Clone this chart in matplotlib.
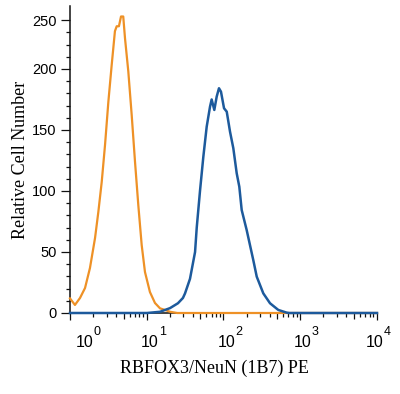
import matplotlib
matplotlib.use("Agg")
import matplotlib.pyplot as plt
from matplotlib.ticker import FixedLocator, NullLocator, NullFormatter
import numpy as np

# ---------------- data ----------------
orange_x = [1.00, 1.16, 1.35, 1.57, 1.82, 2.12, 2.34, 2.59, 2.86, 3.16, 3.49, 3.85,
            4.06, 4.34, 4.62, 4.94, 5.21, 5.75, 6.37, 7.03, 7.76, 8.59, 9.48, 11.0,
            12.8, 14.9, 17.3, 20.1, 25.0, 10000]
orange_y = [12, 6.6, 12.3, 20.5, 36.9, 61.5, 82.8, 107.4, 137.7, 173, 203, 231,
            235, 235, 243, 243, 225, 198, 162, 124, 88.5, 55.7, 33.6, 17.2,
            8.2, 3.8, 2.5, 1.0, 0, 0]

blue_x = [1.0, 10.07, 14.9, 20.1, 25.5, 29.6, 31.5, 36.6, 42.6, 44.8, 49.4, 54.6,
          60.4, 66.7, 70.1, 75.9, 81.5, 87.3, 92.7, 101.6, 110.2, 121.6, 134.3,
          148.6, 160.7, 172.6, 200.4, 244.3, 271, 330, 403.6, 517.6, 665, 720, 10000]
blue_y = [0, 0, 1, 4, 8, 12.3, 16, 28, 50, 70, 100, 128,
          152.7, 169, 175, 166.4, 177.3, 184.2, 181.4, 167.8, 165, 148.6, 135,
          114.5, 103.5, 84.4, 68, 43.4, 29.8, 16.1, 8, 2.5, 0.3, 0, 0]

x_major = [1, 10, 100, 1000, 10000]
x_base_labels = ["10", "10", "10", "10", "10"]
x_exp_labels = ["0", "1", "2", "3", "4"]
x_mid_ticks = [5, 50, 500, 5000]

y_major = [0, 50, 100, 150, 200, 240]
y_labels = ["0", "50", "100", "150", "200", "250"]
y_minor = list(range(0, 250, 10))

ORANGE = "#EE9126"
BLUE = "#1D5A9C"

# ---------------- figure ----------------
W, H = 400, 394
fig = plt.figure(figsize=(W / 100, H / 100), dpi=100)
ax = fig.add_axes([70 / W, 81 / H, 307 / W, 307 / H])

ax.plot(orange_x, orange_y, color=ORANGE, lw=1.6, clip_on=False, zorder=3)
ax.plot(blue_x, blue_y, color=BLUE, lw=1.8, clip_on=False, zorder=4)

ax.set_xscale("log")
ax.set_xlim(1, 10000)
ax.set_ylim(0, 251.6)

for s in ["top", "right"]:
    ax.spines[s].set_visible(False)
for s in ["left", "bottom"]:
    ax.spines[s].set_linewidth(1.1)
    ax.spines[s].set_color("#111111")

# y ticks
ax.yaxis.set_major_locator(FixedLocator(y_major))
ax.set_yticklabels(y_labels, fontsize=10.5, family="Liberation Sans")
ax.yaxis.set_minor_locator(FixedLocator(y_minor))
ax.tick_params(axis="y", which="major", length=6.5, width=0.9, pad=3, color="#111111")
ax.tick_params(axis="y", which="minor", length=3, width=0.9, color="#111111")

# x ticks
ax.xaxis.set_major_locator(FixedLocator(x_major))
ax.xaxis.set_major_formatter(NullFormatter())
ax.xaxis.set_minor_locator(FixedLocator(
    [m * 10 ** k for k in range(4) for m in range(2, 10) if m != 5]))
ax.xaxis.set_minor_formatter(NullFormatter())
ax.tick_params(axis="x", which="major", length=5.2, width=0.9, color="#111111")
ax.tick_params(axis="x", which="minor", length=2.8, width=0.9, color="#111111")

sec = ax.secondary_xaxis("bottom")
sec.set_xticks(x_mid_ticks)
sec.xaxis.set_minor_locator(NullLocator())
sec.xaxis.set_major_formatter(NullFormatter())
sec.tick_params(axis="x", length=4, width=0.9, color="#111111")
sec.spines["bottom"].set_visible(False)

# x tick labels: "10" with a raised exponent
px = 0.72
dx_list = [14.5, 3, 3, 2.5, -2]
for xv, base, ex, dx in zip(x_major, x_base_labels, x_exp_labels, dx_list):
    ax.annotate(base, xy=(xv, 0), xycoords=("data", "axes fraction"),
                xytext=(dx * px, -34 * px), textcoords="offset points",
                ha="center", va="baseline", fontsize=11.5,
                family="Liberation Sans", annotation_clip=False)
    ax.annotate(ex, xy=(xv, 0), xycoords=("data", "axes fraction"),
                xytext=((dx + 12.5) * px, -22 * px), textcoords="offset points",
                ha="center", va="baseline", fontsize=9,
                family="Liberation Sans", annotation_clip=False)

ax.set_xlabel("RBFOX3/NeuN (1B7) PE", family="Liberation Serif", fontsize=13)
ax.xaxis.set_label_coords(0.472, -0.153)
ax.set_ylabel("Relative Cell Number", family="Liberation Serif", fontsize=13)
ax.yaxis.set_label_coords(-0.1336, 0.5)

fig.savefig("out.png", dpi=100)
